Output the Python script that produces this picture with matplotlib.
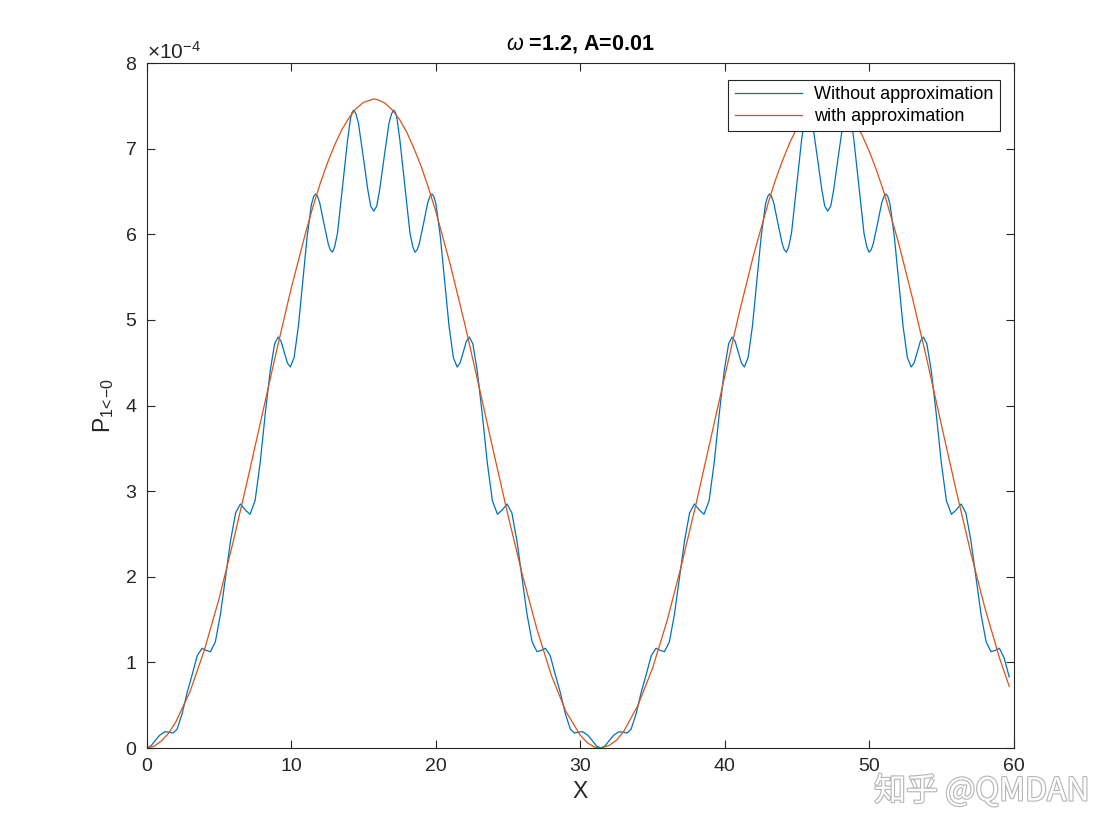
import matplotlib.pyplot as plt
import matplotlib.patheffects as pe

plt.rcParams['font.family'] = ['Liberation Sans', 'DejaVu Sans']
plt.rcParams['mathtext.fontset'] = 'custom'
plt.rcParams['mathtext.rm'] = 'Liberation Sans'
plt.rcParams['mathtext.it'] = 'Liberation Sans:italic'
plt.rcParams['mathtext.bf'] = 'Liberation Sans:bold'
plt.rcParams['axes.unicode_minus'] = False

SCALE = 1e-4  # values below are in units of 1e-4

# "Without approximation", first period (0 .. 10*pi)
x_exact_1 = [0, 0.3, 0.6, 0.9, 1.25, 1.55, 1.82,
             2.1, 2.45, 2.8, 3.15, 3.5, 3.83,
             4.12, 4.41,
             4.75, 5.1, 5.45, 5.8, 6.15, 6.48,
             6.82, 7.15,
             7.5, 7.85, 8.2, 8.55, 8.85, 9.09,
             9.3, 9.52, 9.74, 9.94,
             10.2, 10.5, 10.8, 11.1, 11.4, 11.55, 11.67,
             11.8, 11.97, 12.27, 12.56, 12.7, 12.85,
             13.0, 13.2, 13.55, 13.9, 14.1, 14.2, 14.33,
             14.47, 14.65, 14.98, 15.3, 15.5, 15.71,
             15.92, 16.12, 16.44, 16.77, 16.95, 17.09, 17.22, 17.32, 17.52, 17.87,
             18.22, 18.42, 18.57, 18.72, 18.86, 19.15, 19.45, 19.62, 19.75, 19.87,
             20.02, 20.32, 20.62, 20.92, 21.22, 21.48, 21.68, 21.9, 22.12, 22.33,
             22.57, 22.87, 23.22, 23.57, 23.92, 24.27, 24.6, 24.94, 25.27, 25.62,
             25.97, 26.32, 26.67, 27.01, 27.3, 27.59, 27.92, 28.27, 28.62, 28.97,
             29.32, 29.6, 29.87, 30.17, 30.52, 30.82, 31.12, 31.42]
p_exact_1 = [0, 0.025, 0.09, 0.15, 0.19, 0.185, 0.175,
             0.22, 0.40, 0.65, 0.86, 1.08, 1.165,
             1.14, 1.125,
             1.24, 1.56, 1.99, 2.42, 2.745, 2.85,
             2.78, 2.73,
             2.89, 3.33, 3.90, 4.41, 4.72, 4.80,
             4.75, 4.62, 4.495, 4.45,
             4.56, 4.93, 5.45, 5.97, 6.35, 6.44, 6.47,
             6.45, 6.37, 6.12, 5.89, 5.82, 5.79,
             5.85, 6.01, 6.55, 7.10, 7.35, 7.42, 7.45,
             7.41, 7.30, 6.91, 6.52, 6.33, 6.27,
             6.33, 6.52, 6.91, 7.30, 7.41, 7.45, 7.42, 7.35, 7.10, 6.55,
             6.01, 5.85, 5.79, 5.82, 5.89, 6.12, 6.37, 6.45, 6.47, 6.44,
             6.35, 5.97, 5.45, 4.93, 4.56, 4.45, 4.495, 4.62, 4.75, 4.80,
             4.72, 4.41, 3.90, 3.33, 2.89, 2.73, 2.78, 2.85, 2.745, 2.42,
             1.99, 1.56, 1.24, 1.125, 1.14, 1.165, 1.08, 0.86, 0.65, 0.40,
             0.22, 0.175, 0.185, 0.19, 0.15, 0.09, 0.025, 0]

# second period (10*pi .. 19*pi)
x_exact_2 = [31.72, 32.02, 32.32, 32.67, 32.97, 33.24,
             33.52, 33.87, 34.22, 34.57, 34.92, 35.25,
             35.54, 35.83,
             36.17, 36.52, 36.87, 37.22, 37.57, 37.90,
             38.24, 38.57,
             38.92, 39.27, 39.62, 39.97, 40.27, 40.51,
             40.72, 40.94, 41.16, 41.36,
             41.62, 41.92, 42.22, 42.52, 42.82, 42.97, 43.09,
             43.22, 43.39, 43.69, 43.98, 44.12, 44.27,
             44.42, 44.62, 44.97, 45.32, 45.52, 45.62, 45.75,
             45.89, 46.07, 46.40, 46.72, 46.92, 47.13,
             47.34, 47.54, 47.86, 48.19, 48.37, 48.51, 48.64, 48.74, 48.94, 49.29,
             49.64, 49.84, 49.99, 50.14, 50.28, 50.57, 50.87, 51.04, 51.17, 51.29,
             51.44, 51.74, 52.04, 52.34, 52.64, 52.90, 53.10, 53.32, 53.54, 53.75,
             53.99, 54.29, 54.64, 54.99, 55.34, 55.69, 56.02, 56.36, 56.69, 57.04,
             57.39, 57.74, 58.09, 58.43, 58.72, 59.01, 59.34, 59.69]
p_exact_2 = [0.025, 0.09, 0.15, 0.19, 0.185, 0.175,
             0.22, 0.40, 0.65, 0.86, 1.08, 1.165,
             1.14, 1.125,
             1.24, 1.56, 1.99, 2.42, 2.745, 2.85,
             2.78, 2.73,
             2.89, 3.33, 3.90, 4.41, 4.72, 4.80,
             4.75, 4.62, 4.495, 4.45,
             4.56, 4.93, 5.45, 5.97, 6.35, 6.44, 6.47,
             6.45, 6.37, 6.12, 5.89, 5.82, 5.79,
             5.85, 6.01, 6.55, 7.10, 7.35, 7.42, 7.45,
             7.41, 7.30, 6.91, 6.52, 6.33, 6.27,
             6.33, 6.52, 6.91, 7.30, 7.41, 7.45, 7.42, 7.35, 7.10, 6.55,
             6.01, 5.85, 5.79, 5.82, 5.89, 6.12, 6.37, 6.45, 6.47, 6.44,
             6.35, 5.97, 5.45, 4.93, 4.56, 4.45, 4.495, 4.62, 4.75, 4.80,
             4.72, 4.41, 3.90, 3.33, 2.89, 2.73, 2.78, 2.85, 2.745, 2.42,
             1.99, 1.56, 1.24, 1.125, 1.14, 1.165, 1.05, 0.83]

# "with approximation"
x_rwa = [0, 0.5, 1, 1.5, 2, 3, 4, 5, 6, 7, 8, 9, 10, 11, 11.5, 12, 12.5,
         13, 13.5, 14, 14.5, 15, 15.71, 16, 16.5, 17, 17.5, 18, 18.5, 19,
         19.5, 20, 21, 22, 23, 24, 25, 26, 27, 28, 29, 30, 30.5, 31, 31.42,
         32, 32.5, 33, 34, 35, 36, 37, 38, 39, 40, 41, 42, 43, 43.5, 44,
         44.5, 45, 45.5, 46, 46.5, 47.12, 47.5, 48, 48.5, 49, 49.5, 50, 50.5,
         51, 52, 53, 54, 55, 56, 57, 58, 59, 59.69]
p_rwa = [0, 0.02, 0.08, 0.17, 0.30, 0.66, 1.15, 1.74, 2.42, 3.15, 3.90,
         4.65, 5.37, 6.02, 6.32, 6.59, 6.83,
         7.04, 7.22, 7.36, 7.47, 7.54, 7.58, 7.57, 7.53, 7.45, 7.34, 7.19,
         7.00, 6.79,
         6.54, 6.27, 5.65, 4.96, 4.22, 3.46, 2.72, 2.02, 1.39, 0.85, 0.43,
         0.15, 0.06, 0.01, 0,
         0.03, 0.09, 0.19, 0.50, 0.93, 1.48, 2.13, 2.84, 3.59, 4.34, 5.08,
         5.76, 6.36, 6.63, 6.86,
         7.07, 7.24, 7.38, 7.49, 7.55, 7.58, 7.57, 7.52, 7.44, 7.32, 7.16,
         6.97, 6.75,
         6.50, 5.92, 5.25, 4.53, 3.77, 3.02, 2.30, 1.64, 1.06, 0.72]

x_exact = x_exact_1 + x_exact_2
p_exact = p_exact_1 + p_exact_2

dark = '#262626'
fig = plt.figure(figsize=(11.2, 8.4), dpi=100)
ax = fig.add_axes([0.131, 0.1095, 0.7741, 0.8155])

ax.plot(x_exact, [v * SCALE for v in p_exact], color='#0072BD', lw=0.9,
        label='Without approximation')
ax.plot(x_rwa, [v * SCALE for v in p_rwa], color='#D95319', lw=0.9,
        label='with approximation')

ax.set_xlim(0, 60)
ax.set_ylim(0, 8 * SCALE)
ax.set_xticks(range(0, 61, 10))
ax.set_yticks([i * SCALE for i in range(9)])
ax.ticklabel_format(axis='y', style='sci', scilimits=(0, 0), useMathText=True)
ax.yaxis.get_offset_text().set_fontsize(15)
ax.yaxis.get_offset_text().set_color(dark)
ax.tick_params(direction='in', top=True, right=True, length=6, width=0.8,
               labelsize=14, colors=dark, pad=7)
for s in ax.spines.values():
    s.set_color(dark)
    s.set_linewidth(0.8)

ax.set_xlabel('X', fontsize=16.5, color=dark, labelpad=4)
ax.set_ylabel(r'P$_{\mathregular{1\!<\!\!-\!0}}$', fontsize=16.5, color=dark, labelpad=6)
ax.set_title(r'$\omega$ =1.2, A=0.01', fontsize=15.5, fontweight='bold', pad=10)

leg = ax.legend(loc='upper right', bbox_to_anchor=(0.984, 0.975), fontsize=13,
                frameon=True, fancybox=False, edgecolor=dark, framealpha=1,
                handlelength=3.7, borderaxespad=0, borderpad=0.35,
                labelspacing=0.25, handletextpad=0.7)
leg.get_frame().set_linewidth(0.8)

fig.text(0.973, 0.058, '知乎 @QMDAN', ha='right', va='center', fontsize=23,
         color='white', family=['Noto Sans CJK SC', 'DejaVu Sans'],
         path_effects=[pe.withStroke(linewidth=1.6, foreground='#b5b5b5')])

fig.savefig('out.png', dpi=100)
